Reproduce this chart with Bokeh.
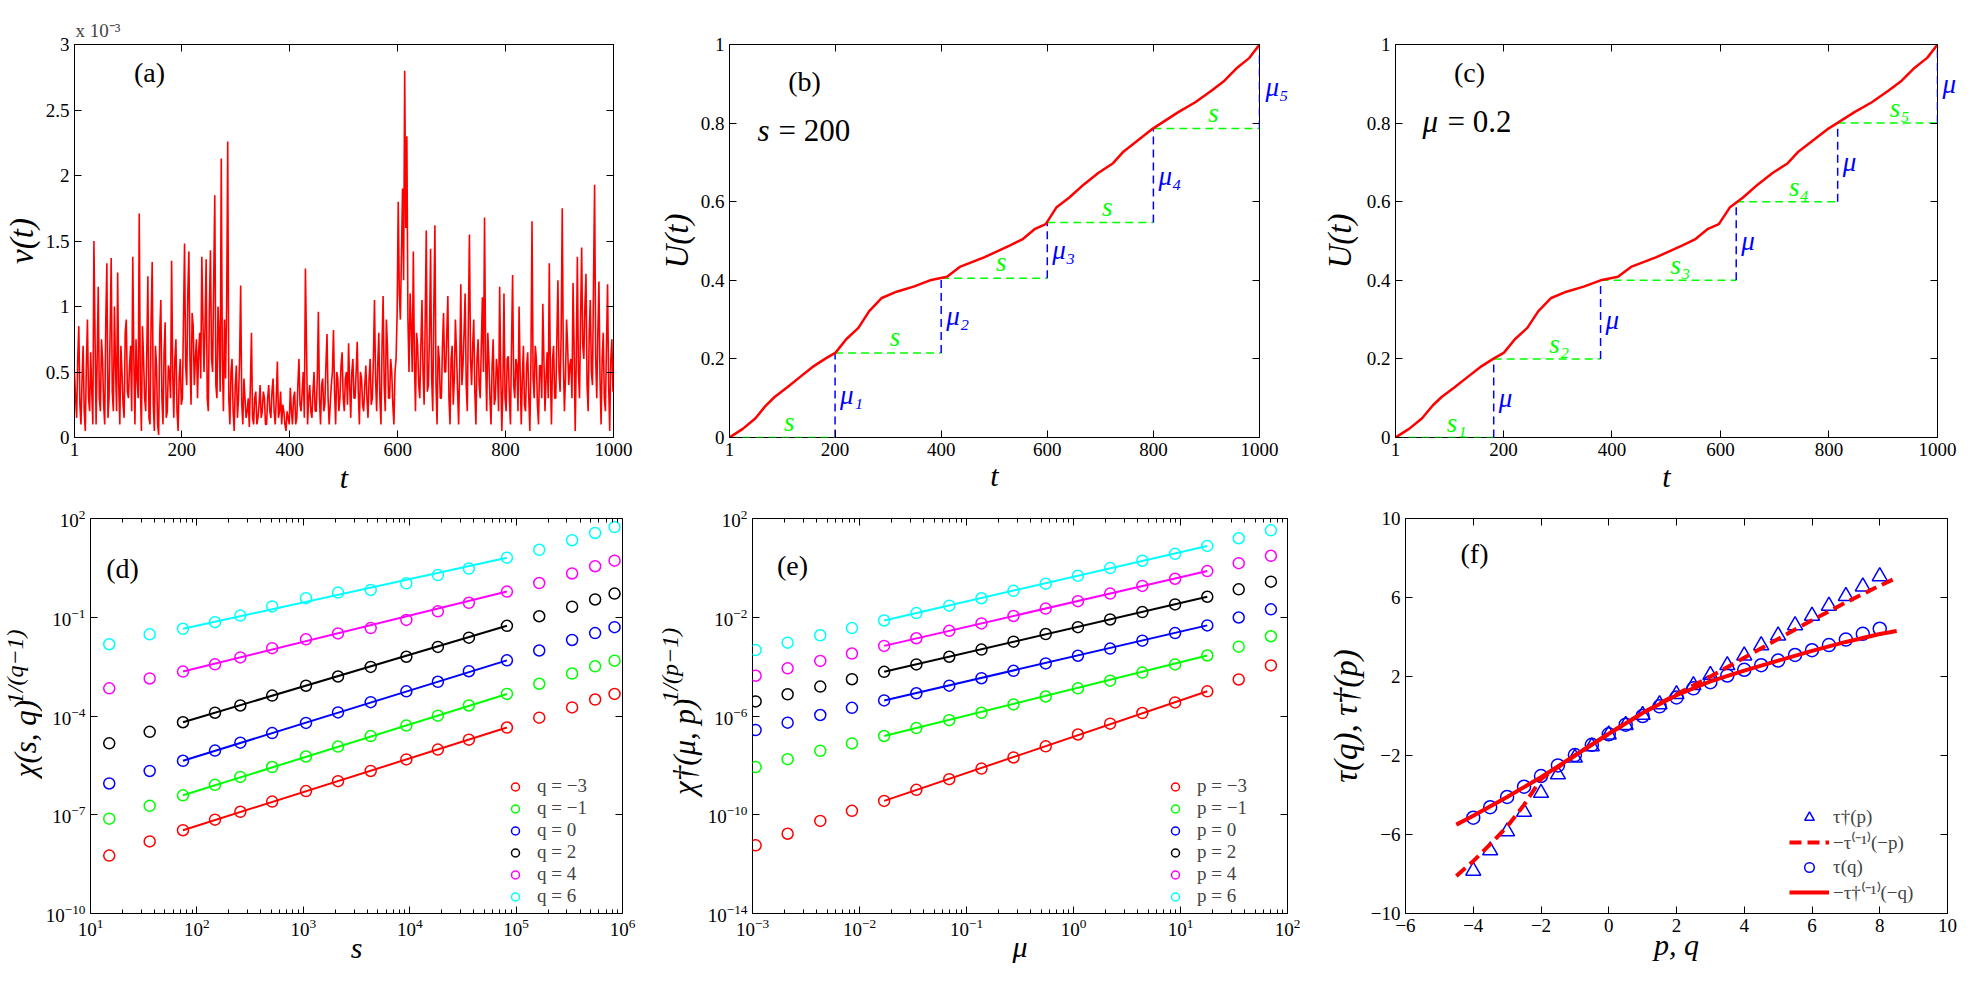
import numpy as np
from bokeh.plotting import figure
from bokeh.models import (Label, Legend, LegendItem, LinearAxis, LogAxis,
                          FixedTicker, Range1d, Title)
from bokeh.layouts import column, row
from bokeh.embed import file_html
from bokeh.resources import INLINE

SERIF = "Liberation Serif"
RED, GREEN, BLUE = "#ff0000", "#00ff00", "#0000ff"
BLACK, MAGENTA, CYAN = "#000000", "#ff00ff", "#00ffff"

# ---------------- data ----------------
# (a) v(t) in units of 1e-3, read by eye: samples at t = 1,5,9,... and t = 3,7,11,...
t_v = list(range(1, 1001, 4)) + [1000]
v_vals = [
    0.5, 0.15, 0.85, 0.1, 0.7, 0.05, 0.9, 0.2, 0.35, 1.5,
    0.1, 1.15, 0.2, 0.6, 0.1, 1.33, 0.3, 1.37, 0.2, 0.55,
    1.26, 0.1, 0.5, 0.15, 0.9, 0.3, 0.7, 1.38, 0.1, 0.45,
    1.71, 0.05, 0.6, 0.2, 1.23, 0.1, 1.34, 0.05, 0.55, 0.02,
    1.05, 0.1, 0.88, 0.2, 0.5, 1.35, 0.15, 0.75, 0.05, 0.6,
    0.3, 1.48, 0.4, 1.42, 0.25, 0.85, 0.6, 0.3, 0.8, 1.38,
    0.5, 1.36, 0.2, 1.43, 0.5, 1.85, 0.3, 0.8, 2.13, 0.2,
    0.45, 2.26, 0.1, 0.6, 0.05, 0.55, 0.3, 1.16, 0.1, 0.3,
    0.2, 0.08, 0.8, 0.1, 0.35, 0.15, 0.4, 0.2, 0.3, 0.1,
    0.4, 0.15, 0.45, 0.1, 0.58, 0.2, 0.1, 0.2, 0.05, 0.15,
    0.38, 0.1, 0.35, 0.15, 0.6, 0.2, 0.5, 1.29, 0.1, 0.4,
    0.15, 0.5, 0.2, 0.96, 0.1, 0.45, 0.25, 0.79, 0.1, 0.4,
    0.82, 0.1, 0.45, 0.3, 0.65, 0.2, 0.5, 0.72, 0.15, 0.6,
    0.3, 0.73, 0.1, 0.45, 0.2, 0.55, 0.15, 0.6, 0.3, 1.05,
    0.2, 0.8, 0.1, 1.08, 0.2, 0.7, 0.3, 0.5, 0.1, 0.6,
    1.8, 0.9, 1.9, 2.8, 2.3, 0.5, 0.85, 1.42, 0.2, 0.7,
    0.3, 1.05, 0.25, 1.58, 0.4, 1.44, 0.2, 1.62, 0.1, 0.6,
    0.3, 0.95, 0.5, 1.08, 0.1, 0.7, 0.45, 0.65, 0.1, 1.17,
    0.55, 1.1, 0.2, 1.55, 0.4, 0.9, 0.1, 0.75, 0.3, 1.07,
    1.68, 0.2, 0.6, 0.1, 0.75, 0.3, 0.5, 1.15, 0.05, 1.1,
    0.2, 0.62, 0.1, 1.24, 0.3, 0.55, 1.0, 0.1, 0.7, 0.2,
    0.65, 0.05, 1.65, 0.3, 0.6, 0.1, 0.55, 1.02, 0.2, 0.65,
    1.33, 0.1, 0.7, 0.3, 1.2, 0.35, 1.75, 0.2, 0.9, 0.4,
    0.6, 1.18, 0.05, 1.38, 0.3, 1.45, 0.6, 1.25, 0.2, 1.05,
    0.4, 1.93, 0.3, 1.19, 0.1, 0.8, 0.2, 1.17, 0.05, 0.75,
    0.6,
]
t_v_mid = list(range(3, 1001, 4))
v_vals_mid = [
    0.3, 0.6, 0.25, 0.45, 0.2, 0.55, 0.3, 0.65, 0.1, 0.8,
    0.6, 0.3, 0.75, 0.25, 0.9, 0.15, 0.8, 0.35, 1.0, 0.2,
    0.4, 0.7, 0.25, 0.8, 0.35, 0.55, 0.2, 0.6, 0.75, 0.3,
    0.4, 0.85, 0.3, 0.65, 0.15, 0.9, 0.25, 0.7, 0.1, 0.8,
    0.3, 0.65, 0.15, 0.55, 0.3, 0.5, 0.6, 0.2, 0.45, 0.25,
    0.9, 0.55, 1.1, 0.6, 0.95, 0.4, 0.75, 0.65, 0.45, 0.9,
    0.85, 0.3, 1.0, 0.6, 1.2, 0.4, 1.0, 0.35, 0.6, 0.9,
    1.0, 0.3, 0.5, 0.2, 0.4, 0.15, 0.6, 0.25, 0.45, 0.15,
    0.3, 0.4, 0.15, 0.3, 0.1, 0.25, 0.15, 0.35, 0.1, 0.3,
    0.2, 0.35, 0.2, 0.3, 0.15, 0.35, 0.25, 0.1, 0.2, 0.1,
    0.2, 0.3, 0.1, 0.4, 0.25, 0.35, 0.15, 0.7, 0.3, 0.2,
    0.35, 0.2, 0.45, 0.3, 0.4, 0.2, 0.55, 0.3, 0.25, 0.5,
    0.35, 0.5, 0.2, 0.55, 0.3, 0.45, 0.25, 0.4, 0.5, 0.3,
    0.5, 0.35, 0.5, 0.25, 0.4, 0.3, 0.45, 0.25, 0.6, 0.45,
    0.55, 0.3, 0.7, 0.4, 0.9, 0.3, 0.6, 0.25, 0.5, 0.95,
    1.1, 1.4, 1.2, 1.6, 0.9, 1.1, 0.5, 0.6, 0.8, 0.4,
    0.7, 0.5, 0.9, 0.35, 0.8, 0.45, 1.0, 0.4, 0.7, 0.3,
    0.7, 0.5, 0.8, 0.3, 0.6, 0.25, 0.9, 0.35, 0.55, 0.4,
    0.8, 0.4, 0.9, 0.6, 0.7, 0.35, 0.6, 0.4, 0.7, 0.5,
    0.6, 0.8, 0.3, 0.55, 0.25, 0.6, 0.2, 0.5, 0.4, 0.3,
    0.6, 0.3, 0.7, 0.4, 0.6, 0.2, 0.5, 0.45, 0.25, 0.55,
    0.3, 0.6, 0.45, 0.7, 0.25, 0.55, 0.3, 0.6, 0.45, 0.3,
    0.5, 0.6, 0.3, 0.75, 0.5, 0.8, 0.6, 0.45, 0.7, 0.55,
    0.3, 0.7, 0.6, 0.5, 0.9, 0.7, 1.0, 0.4, 0.8, 0.5,
    1.2, 0.6, 0.8, 0.45, 0.6, 0.3, 0.7, 0.4, 0.6, 0.35,
]

# (b),(c) U(t)
t_U = [1, 26, 50, 70, 86, 110, 133, 157, 181, 201, 221, 244, 264, 276, 288,
       316, 348, 379, 411, 435, 482, 530, 554, 577, 597, 617, 641, 669, 696,
       724, 744, 768, 799, 823, 847, 879, 910, 934, 958, 981, 1000]
U_vals = [0, 0.022, 0.049, 0.082, 0.103, 0.128, 0.153, 0.179, 0.2, 0.216, 0.25,
          0.279, 0.321, 0.338, 0.355, 0.371, 0.384, 0.4, 0.409, 0.434, 0.459,
          0.489, 0.505, 0.531, 0.543, 0.585, 0.61, 0.644, 0.673, 0.698, 0.728,
          0.753, 0.786, 0.807, 0.828, 0.853, 0.883, 0.908, 0.941, 0.966, 1.0]
b_step_t = [1, 200, 400, 600, 800, 1000]
b_step_U = [0, 0.215, 0.405, 0.547, 0.786, 1.0]
c_step_t = [1, 182, 379, 629, 816, 1000]
c_step_U = [0, 0.2, 0.4, 0.6, 0.8, 1.0]

# (d) chi(s,q)^{1/(q-1)}, log10 values
s_vals = [15, 36, 74, 148, 256, 510, 1060, 2120, 4300, 9300, 18400, 36000,
          82000, 165000, 336000, 553000, 842000]
q_labels = ["q = \u22123", "q = \u22121", "q = 0", "q = 2", "q = 4", "q = 6"]
d_red = [-8.24, -7.81, -7.47, -7.15, -6.91, -6.6, -6.28, -5.98, -5.67, -5.32, -5.02, -4.72, -4.35, -4.05, -3.74, -3.5, -3.33]
d_green = [-7.12, -6.73, -6.41, -6.09, -5.85, -5.55, -5.23, -4.93, -4.61, -4.29, -3.99, -3.68, -3.33, -3.02, -2.71, -2.49, -2.32]
d_blue = [-6.05, -5.67, -5.36, -5.05, -4.81, -4.52, -4.21, -3.89, -3.58, -3.25, -2.96, -2.64, -2.31, -2.01, -1.69, -1.48, -1.3]
d_black = [-4.83, -4.48, -4.19, -3.9, -3.68, -3.38, -3.08, -2.8, -2.51, -2.2, -1.9, -1.62, -1.26, -0.97, -0.68, -0.46, -0.28]
d_magenta = [-3.16, -2.86, -2.65, -2.43, -2.22, -1.94, -1.67, -1.49, -1.33, -1.08, -0.82, -0.56, -0.22, 0.04, 0.33, 0.55, 0.72]
d_cyan = [-1.82, -1.52, -1.35, -1.15, -0.95, -0.67, -0.42, -0.25, -0.17, 0.03, 0.28, 0.48, 0.81, 1.05, 1.34, 1.56, 1.74]
d_fit_start = [-7.47, -6.41, -5.36, -4.19, -2.65, -1.35]
d_fit_end = [-4.35, -3.33, -2.31, -1.26, -0.22, 0.81]

# (e) chi^dagger(mu,p)^{1/(p-1)}, log10 values
mu_vals = [0.00107, 0.00213, 0.0043, 0.0085, 0.017, 0.034, 0.069, 0.138, 0.275,
           0.55, 1.1, 2.2, 4.4, 8.9, 17.8, 35, 70]
p_labels = ["p = \u22123", "p = \u22121", "p = 0", "p = 2", "p = 4", "p = 6"]
e_red = [-11.24, -10.77, -10.25, -9.84, -9.44, -8.99, -8.56, -8.13, -7.68, -7.23, -6.75, -6.31, -5.88, -5.45, -5.0, -4.52, -3.95]
e_green = [-8.07, -7.75, -7.41, -7.11, -6.81, -6.49, -6.17, -5.87, -5.53, -5.21, -4.88, -4.57, -4.24, -3.91, -3.55, -3.19, -2.77]
e_blue = [-6.57, -6.27, -5.96, -5.67, -5.37, -5.08, -4.77, -4.47, -4.17, -3.87, -3.56, -3.27, -2.95, -2.64, -2.33, -2.01, -1.68]
e_black = [-5.41, -5.12, -4.81, -4.51, -4.21, -3.91, -3.6, -3.31, -2.99, -2.68, -2.4, -2.09, -1.79, -1.48, -1.17, -0.87, -0.56]
e_magenta = [-4.37, -4.07, -3.77, -3.47, -3.16, -2.85, -2.55, -2.25, -1.95, -1.65, -1.35, -1.04, -0.73, -0.44, -0.13, 0.19, 0.49]
e_cyan = [-3.33, -3.03, -2.73, -2.44, -2.13, -1.83, -1.53, -1.23, -0.93, -0.64, -0.32, -0.01, 0.29, 0.57, 0.89, 1.2, 1.52]
e_fit_start = [-9.44, -6.81, -5.37, -4.21, -3.16, -2.13]
e_fit_end = [-5.0, -3.55, -2.33, -1.17, -0.13, 0.89]

# (f) scaling exponents
pq_vals = [-4, -3.5, -3, -2.5, -2, -1.5, -1, -0.5, 0, 0.5, 1, 1.5, 2, 2.5, 3,
           3.5, 4, 4.5, 5, 5.5, 6, 6.5, 7, 7.5, 8]
tau_dag = [-7.84, -6.81, -5.85, -4.86, -3.9, -2.96, -2.11, -1.54, -0.94, -0.46,
           0.05, 0.59, 1.1, 1.56, 2.08, 2.57, 3.06, 3.58, 4.07, 4.59, 5.07,
           5.58, 6.07, 6.55, 7.07]
tau_q = [-5.15, -4.62, -4.1, -3.58, -3.04, -2.5, -1.98, -1.46, -0.93, -0.44,
         0.0, 0.49, 0.94, 1.4, 1.71, 2.05, 2.34, 2.57, 2.81, 3.09, 3.33, 3.59,
         3.87, 4.16, 4.42]
inv_p_x = [-4.5, -4, -3.5, -3, -2.5, -2, -1, 0, 1, 2, 2.5, 3, 4, 5, 6, 7, 8, 8.5]
inv_p_y = [-8.1, -7.35, -6.5, -5.6, -4.5, -3.2, -2.0, -0.9, 0.15, 1.1, 1.55, 2.0,
           2.95, 3.9, 4.85, 5.75, 6.6, 7.0]
inv_q_x = [-4.5, -4, -3, -2, -1, 0, 1, 2, 3, 4, 5, 6, 7, 8, 8.5]
inv_q_y = [-5.5, -5.05, -4.1, -3.1, -2.0, -0.9, 0.15, 1.05, 1.75, 2.3, 2.8, 3.3,
           3.75, 4.15, 4.3]
f_labels = ["\u03c4\u2020(p)", "\u2212\u03c4\u207d\u207b\u00b9\u207e(\u2212p)",
            "\u03c4(q)", "\u2212\u03c4\u2020\u207d\u207b\u00b9\u207e(\u2212q)"]

# ---------------- helpers ----------------
def base_fig(w, h, bl, br, bt, bb, xr, yr, xt="linear", yt="linear"):
    p = figure(width=w, height=h, x_range=Range1d(*xr), y_range=Range1d(*yr),
               x_axis_type=xt, y_axis_type=yt, output_backend="svg",
               toolbar_location=None, min_border_left=bl, min_border_right=br,
               min_border_top=bt, min_border_bottom=bb)
    p.grid.visible = False
    p.outline_line_color = "black"
    p.outline_line_width = 1
    p.background_fill_color = "white"
    p.border_fill_color = "white"
    return p


def text_fig(w, h):
    p = figure(width=w, height=h, x_range=Range1d(0, w), y_range=Range1d(0, h),
               output_backend="svg", toolbar_location=None,
               x_axis_location=None, y_axis_location=None,
               min_border_left=0, min_border_right=0, min_border_top=0,
               min_border_bottom=0)
    p.grid.visible = False
    p.outline_line_color = None
    p.background_fill_color = "white"
    p.border_fill_color = "white"
    return p


def style_axis(ax, hide=False):
    ax.axis_line_color = None
    ax.major_tick_in = 7
    ax.major_tick_out = 0
    ax.minor_tick_in = 4
    ax.minor_tick_out = 0
    ax.major_tick_line_color = "black"
    ax.minor_tick_line_color = "black"
    ax.major_label_text_font = SERIF
    ax.major_label_text_font_size = "19px"
    ax.major_label_text_color = "black"
    ax.major_label_standoff = 5
    ax.axis_label_text_font = SERIF
    ax.axis_label_text_font_style = "italic"
    ax.axis_label_text_color = "black"
    if hide:
        ax.major_label_text_font_size = "0px"
        ax.major_label_text_color = None
        ax.major_label_standoff = 0


def fmt(v):
    return f"{v:g}".replace("-", "\u2212")


def setup_axes(p, xticks, yticks, xminor=(), yminor=(), log_x=False, log_y=False):
    xt = FixedTicker(ticks=list(xticks), minor_ticks=list(xminor))
    yt = FixedTicker(ticks=list(yticks), minor_ticks=list(yminor))
    bottom, left = p.below[0], p.left[0]
    bottom.ticker = xt
    left.ticker = yt
    style_axis(bottom)
    style_axis(left)
    if not log_x:
        bottom.major_label_overrides = {v: fmt(v) for v in xticks}
    if not log_y:
        left.major_label_overrides = {v: fmt(v) for v in yticks}
    top = (LogAxis if log_x else LinearAxis)(ticker=xt)
    right = (LogAxis if log_y else LinearAxis)(ticker=yt)
    style_axis(top, hide=True)
    style_axis(right, hide=True)
    p.add_layout(top, "above")
    p.add_layout(right, "right")


def set_xlabel(p, text, size, standoff):
    ax = p.below[0]
    ax.axis_label = text
    ax.axis_label_text_font_size = f"{size}px"
    ax.axis_label_standoff = standoff


def set_ylabel(p, text, size, standoff):
    ax = p.left[0]
    ax.axis_label = text
    ax.axis_label_text_font_size = f"{size}px"
    ax.axis_label_standoff = standoff


def add_right_tag(p, yv, text, color, size=27, standoff=6):
    ax = LinearAxis(ticker=FixedTicker(ticks=[yv]))
    style_axis(ax)
    ax.major_tick_in = 0
    ax.major_label_standoff = standoff
    ax.major_label_overrides = {yv: text}
    ax.major_label_text_color = color
    ax.major_label_text_font_size = f"{size}px"
    ax.major_label_text_font_style = "italic"
    p.add_layout(ax, "right")


def lab(p, x, y, text, size, style="normal", color="black", angle=0,
        align="center", baseline="middle", units="screen", xo=0, yo=0):
    p.add_layout(Label(x=x, y=y, x_units=units, y_units=units, text=text,
                       text_font=SERIF, text_font_size=f"{size}px",
                       text_font_style=style, text_color=color,
                       angle=angle, angle_units="deg",
                       text_align=align, text_baseline=baseline,
                       x_offset=xo, y_offset=yo))


def log_minor(e0, e1):
    return [k * 10.0 ** e for e in range(e0, e1) for k in range(2, 10)]


def legend(items, loc, size, gw, gh, spacing, standoff):
    return Legend(items=items, location=loc, border_line_color=None,
                  background_fill_alpha=0, label_text_font=SERIF,
                  label_text_font_size=f"{size}px", glyph_width=gw,
                  glyph_height=gh, label_height=gh, spacing=spacing, padding=0,
                  margin=0, label_standoff=standoff)


# ---------------- (a) ----------------
pa = base_fig(652, 500, 67, 39, 31, 63, (1, 1000), (0, 3))
setup_axes(pa, [1, 200, 400, 600, 800, 1000], [0, 0.5, 1, 1.5, 2, 2.5, 3])
pairs = sorted(zip(t_v + t_v_mid, v_vals + v_vals_mid))
pa.line([t for t, _ in pairs], [v for _, v in pairs], line_color=RED, line_width=1.6)
lab(pa, 75, 365, "(a)", 28)
set_ylabel(pa, "v(t)", 33, 3)
set_xlabel(pa, "t", 30, 2)
pa.add_layout(Title(text="x 10\u207b\u00b3", align="left", offset=1,
                    vertical_align="bottom", standoff=8, text_font=SERIF,
                    text_font_size="19px", text_font_style="normal"), "above")

# ---------------- (b) ----------------
pb = base_fig(660, 500, 77, 53, 44, 61, (1, 1000), (0, 1))
setup_axes(pb, [1, 200, 400, 600, 800, 1000], [0, 0.2, 0.4, 0.6, 0.8, 1])
for i in range(5):
    x0, x1 = b_step_t[i], b_step_t[i + 1]
    y0, y1 = b_step_U[i], b_step_U[i + 1]
    pb.line([x0, x1], [y0, y0], line_color=GREEN, line_width=1.5, line_dash="8 5")
    pb.line([x1, x1], [y0, y1], line_color=BLUE, line_width=1.5, line_dash="8 5")
    lab(pb, (x0 + x1) / 2, y0, "s", 27, style="italic", color=GREEN,
        baseline="bottom", units="data", xo=7, yo=1)
    if i < 4:
        lab(pb, x1, (y0 + y1) / 2, "\u03bc" + chr(0x2081 + i), 27, style="italic",
            color=BLUE, align="left", units="data", xo=5)
add_right_tag(pb, (b_step_U[4] + b_step_U[5]) / 2, "\u03bc\u2085", BLUE)
pb.line(t_U, U_vals, line_color=RED, line_width=2.5)
lab(pb, 75, 356, "(b)", 28)
lab(pb, 28, 307, "s", 31, style="italic", align="left", baseline="alphabetic")
lab(pb, 49, 307, "= 200", 31, align="left", baseline="alphabetic")
set_ylabel(pb, "U(t)", 33, 3)
set_xlabel(pb, "t", 30, 0)

# ---------------- (c) ----------------
pc = base_fig(649, 500, 83, 24, 35, 61, (1, 1000), (0, 1))
setup_axes(pc, [1, 200, 400, 600, 800, 1000], [0, 0.2, 0.4, 0.6, 0.8, 1])
for i in range(5):
    x0, x1 = c_step_t[i], c_step_t[i + 1]
    y0, y1 = c_step_U[i], c_step_U[i + 1]
    pc.line([x0, x1], [y0, y0], line_color=GREEN, line_width=1.5, line_dash="8 5")
    pc.line([x1, x1], [y0, y1], line_color=BLUE, line_width=1.5, line_dash="8 5")
    lab(pc, (x0 + x1) / 2, y0, "s" + chr(0x2081 + i), 27, style="italic",
        color=GREEN, baseline="bottom", units="data", xo=12, yo=0)
    if i < 4:
        lab(pc, x1, (y0 + y1) / 2, "\u03bc", 27, style="italic", color=BLUE,
            align="left", units="data", xo=5)
add_right_tag(pc, (c_step_U[4] + c_step_U[5]) / 2, "\u03bc", BLUE, standoff=5)
pc.line(t_U, U_vals, line_color=RED, line_width=2.5)
lab(pc, 74, 365, "(c)", 28)
lab(pc, 27, 316, "\u03bc", 31, style="italic", align="left", baseline="alphabetic")
lab(pc, 52, 316, "= 0.2", 31, align="left", baseline="alphabetic")
set_ylabel(pc, "U(t)", 33, 6)
set_xlabel(pc, "t", 30, 1)

# ---------------- (d) ----------------
ld = text_fig(42, 474)
lab(ld, 25, 210, "\u03c7(s, q)", 31, style="italic", angle=90, units="data")
lab(ld, 14, 296, "1/(q\u22121)", 24, style="italic", angle=90, units="data")
pd_ = base_fig(610, 474, 45, 30, 18, 61, (10, 1e6), (1e-10, 1e2), "log", "log")
setup_axes(pd_, [1e1, 1e2, 1e3, 1e4, 1e5, 1e6], [1e-10, 1e-7, 1e-4, 1e-1, 1e2],
           xminor=log_minor(1, 6), log_x=True, log_y=True)
d_series = [d_red, d_green, d_blue, d_black, d_magenta, d_cyan]
cols = [RED, GREEN, BLUE, BLACK, MAGENTA, CYAN]
items = []
for k, (vals, c) in enumerate(zip(d_series, cols)):
    r = pd_.scatter(s_vals, [10.0 ** v for v in vals], marker="circle", size=11,
                    fill_color=None, line_color=c, line_width=1.5)
    pd_.line([s_vals[2], s_vals[12]], [10.0 ** d_fit_start[k], 10.0 ** d_fit_end[k]],
             line_color=c, line_width=2)
    items.append(LegendItem(label=q_labels[k], renderers=[r]))
pd_.add_layout(legend(items, (415, 6), 19, 20, 21, 0, 12))
lab(pd_, 32, 345, "(d)", 28)
set_xlabel(pd_, "s", 30, -8)

# ---------------- (e) ----------------
le = text_fig(52, 474)
lab(le, 32, 200, "\u03c7\u2020(\u03bc, p)", 31, style="italic", angle=90, units="data")
lab(le, 17, 298, "1/(p\u22121)", 24, style="italic", angle=90, units="data")
pe = base_fig(608, 474, 48, 25, 18, 60, (1e-3, 1e2), (1e-14, 1e2), "log", "log")
setup_axes(pe, [1e-3, 1e-2, 1e-1, 1e0, 1e1, 1e2], [1e-14, 1e-10, 1e-6, 1e-2, 1e2],
           xminor=log_minor(-3, 2), log_x=True, log_y=True)
e_series = [e_red, e_green, e_blue, e_black, e_magenta, e_cyan]
items = []
for k, (vals, c) in enumerate(zip(e_series, cols)):
    r = pe.scatter(mu_vals, [10.0 ** v for v in vals], marker="circle", size=11,
                   fill_color=None, line_color=c, line_width=1.5)
    pe.line([mu_vals[4], mu_vals[14]], [10.0 ** e_fit_start[k], 10.0 ** e_fit_end[k]],
            line_color=c, line_width=2)
    items.append(LegendItem(label=p_labels[k], renderers=[r]))
pe.add_layout(legend(items, (413, 6), 19, 20, 21, 0, 12))
lab(pe, 40, 348, "(e)", 28)
set_xlabel(pe, "\u03bc", 30, -9)

# ---------------- (f) ----------------
pf = base_fig(649, 474, 93, 14, 14, 56, (-6, 10), (-10, 10))
setup_axes(pf, [-6, -4, -2, 0, 2, 4, 6, 8, 10], [-10, -6, -2, 2, 6, 10])
r_tri = pf.scatter(pq_vals, tau_dag, marker="triangle", size=15, fill_color=None,
                   line_color=BLUE, line_width=1.5)
r_cir = pf.scatter(pq_vals, tau_q, marker="circle", size=13, fill_color=None,
                   line_color=BLUE, line_width=1.5)
r_dash = pf.line(inv_p_x, inv_p_y, line_color=RED, line_width=4, line_dash="12 6")
r_sol = pf.line(inv_q_x, inv_q_y, line_color=RED, line_width=4)
items = [LegendItem(label=f_labels[0], renderers=[r_tri]),
         LegendItem(label=f_labels[1], renderers=[r_dash]),
         LegendItem(label=f_labels[2], renderers=[r_cir]),
         LegendItem(label=f_labels[3], renderers=[r_sol])]
pf.add_layout(legend(items, (384, 8), 19, 40, 24, 0, 4))
lab(pf, 69, 360, "(f)", 28)
set_ylabel(pf, "\u03c4(q), \u03c4\u2020(p)", 33, 4)
set_xlabel(pf, "p, q", 30, -7)

layout = column(row(pa, pb, pc), row(ld, pd_, le, pe, pf))
open("out.html", "w").write(file_html(layout, INLINE))
